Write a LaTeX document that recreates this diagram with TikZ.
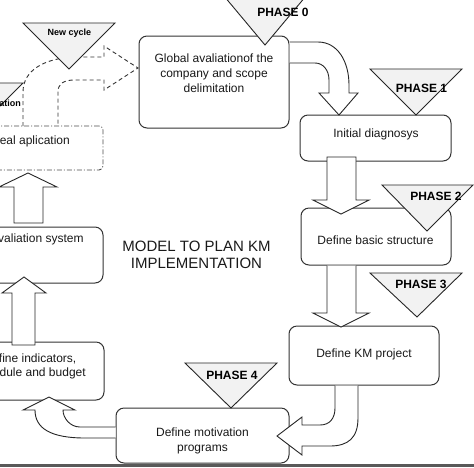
\documentclass[tikz,border=0pt]{standalone}
\usepackage{fontspec}
\setmainfont{Liberation Sans}
\begin{document}
\begin{tikzpicture}[x=1pt,y=-1pt,
    box/.style={draw=black!80,line width=1pt,rounded corners=8pt,fill=white},
    realbox/.style={draw=black!70,line width=0.9pt,rounded corners=4pt,dash pattern=on 5pt off 2pt on 1pt off 2pt},
    blk/.style={draw=black!85,fill=white,line width=0.9pt,line join=miter},
    dblk/.style={draw=black!80,line width=0.9pt,dash pattern=on 4pt off 3pt},
    tri/.style={draw=black!85,fill=black!5,line width=0.9pt,line join=miter},
    txt/.style={align=center,inner sep=0pt,text=black!90,font=\fontsize{12}{15}\selectfont},
    ptxt/.style={inner sep=0pt,font=\fontsize{12}{14}\selectfont\bfseries},
    stxt/.style={inner sep=0pt,font=\fontsize{9}{11}\selectfont\bfseries}]
    \useasboundingbox (0,0) rectangle (474,467);
    \clip (0,0) rectangle (474,467);

    % Boxes
    \node[box,minimum width=150pt,minimum height=92pt] (global) at (214,82) {};
    \node[box,minimum width=151pt,minimum height=46pt] (diag) at (375.5,138) {};
    \node[box,minimum width=150pt,minimum height=57pt] (basic) at (376,236.5) {};
    \node[box,minimum width=150pt,minimum height=59pt] (kmproj) at (364,355.5) {};
    \node[box,minimum width=173pt,minimum height=55pt] (motiv) at (202.5,435.5) {};
    \node[box,minimum width=150pt,minimum height=58pt] (indic) at (29,371) {};
    \node[box,minimum width=150pt,minimum height=56pt] (aval) at (28,255) {};
    \node[realbox,minimum width=150pt,minimum height=44pt] (real) at (28,148) {};

    % Box texts
    \node[txt] (globaltxt) at (214,73) {Global avaliationof the\\company and scope\\delimitation};
    \node[txt] (diagtxt) at (376,134) {Initial diagnosys};
    \node[txt] (basictxt) at (375.5,240) {Define basic structure};
    \node[txt] (kmtxt) at (364,354) {Define KM project};
    \node[txt] (motivtxt) at (202.5,440.5) {Define motivation\\programs};
    \node[txt,font=\fontsize{12}{14}\selectfont] (indictxt) at (30,366) {Define indicators,\\schedule and budget};
    \node[txt] (avaltxt) at (37,239) {Avaliation system};
    \node[txt] (realtxt) at (30.5,141) {Real aplication};

    % Title
    \node[txt,font=\fontsize{15}{17}\selectfont] (title) at (196.5,254.5) {MODEL TO PLAN KM\\IMPLEMENTATION};

    % Block arrows
    \draw[blk] (289.5,42) -- (318,42) .. controls (338,42) and (349,62) .. (349,85) -- (349,93) -- (358,93)
        -- (339,115) -- (319,93) -- (329,93) -- (329,80) .. controls (329,70) and (323,63) .. (315,63) -- (289.5,63);
    \draw[blk] (327,157) -- (327,200) -- (313,200) -- (341,214) -- (369,200) -- (356,200) -- (356,157) -- cycle;
    \draw[blk] (327,265.5) -- (327,313) -- (313,313) -- (341,327) -- (369,313) -- (356,313) -- (356,265.5);
    \draw[blk] (358,385.5) -- (358,418) .. controls (358,438) and (348,446) .. (330,446) -- (302,446) -- (302,455)
        -- (277,436) -- (302,417) -- (302,425) -- (320,425) .. controls (330,425) and (335,418) .. (335,408) -- (335,385.5);
    \draw[blk] (115.5,438) -- (85,438) .. controls (50,438) and (35,428) .. (35,410) -- (23,410) -- (49,397)
        -- (75,410) -- (63,410) .. controls (63,418) and (70,427) .. (80,427) -- (115.5,427);
    \draw[blk] (12,345) -- (12,293) -- (2,293) -- (24,277) -- (46,293) -- (35,293) -- (35,345) -- cycle;
    \draw[blk] (14,223) -- (14,187) -- (-1,187) -- (28,173) -- (57,187) -- (43,187) -- (43,223) -- cycle;

    % New cycle (dashed)
    \draw[dblk] (23,126) -- (23,92) .. controls (23,70) and (45,58) .. (75,57) -- (104,57) -- (104,46) -- (138,68)
        -- (104,90) -- (104,80) -- (75,80) .. controls (63,80) and (58,84) .. (58,92) -- (58,126);

    % Phase triangles
    \draw[tri] (23,23) -- (115,23) -- (69,69) -- cycle;
    \draw[tri] (-69,83) -- (23,83) -- (-23,129) -- cycle;
    \draw[tri] (219,-10) -- (311,-10) -- (265,45) -- cycle;
    \draw[tri] (370,69) -- (462,69) -- (416,115) -- cycle;
    \draw[tri] (382,185) -- (473,185) -- (427,231) -- cycle;
    \draw[tri] (370,273) -- (462,273) -- (417,317) -- cycle;
    \draw[tri] (185,363) -- (277,363) -- (231,408) -- cycle;

    \node[stxt] (newcyc) at (69.5,33) {New cycle};
    \node[stxt] (evaltri) at (-2,103) {Evaluation};
    \node[ptxt] (ph0) at (283,12) {PHASE 0};
    \node[ptxt] (ph1) at (421.5,88) {PHASE 1};
    \node[ptxt] (ph2) at (436,196) {PHASE 2};
    \node[ptxt] (ph3) at (421,284) {PHASE 3};
    \node[ptxt] (ph4) at (232,375) {PHASE 4};

    % Bottom edge
    \draw[black!65,line width=3.5pt] (0,465.5) -- (474,465.5);
\end{tikzpicture}
\end{document}
